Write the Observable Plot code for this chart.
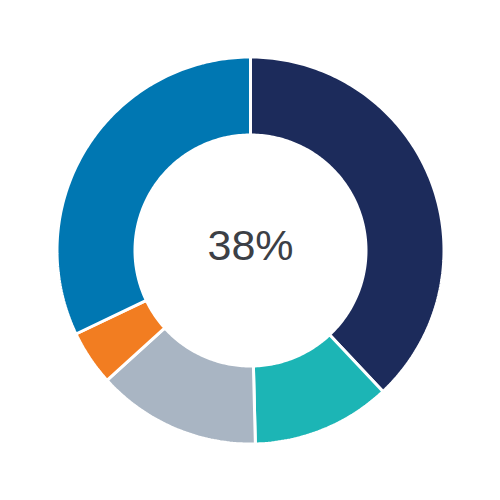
<!DOCTYPE html>
<html>
<head>
<meta charset="utf-8">
<script src="https://cdn.jsdelivr.net/npm/d3@7"></script>
<script src="https://cdn.jsdelivr.net/npm/@observablehq/plot@0.6"></script>
<style>
  html, body { margin: 0; padding: 0; background: #ffffff; }
  #chart { width: 500px; height: 500px; }
</style>
</head>
<body>
<div id="chart"></div>
<script>
// Data (clockwise from 12 o'clock)
const categories = ["Segment 1", "Segment 2", "Segment 3", "Segment 4", "Segment 5"];
const values = [38, 11.6, 13.7, 4.6, 32.1];
const colors = ["#1c2b5b", "#1cb5b5", "#a9b5c3", "#f27d21", "#0077b2"];
const centerLabel = "38%";

// Build slice outlines from the pie layout
const outerR = 193.5, innerR = 115.5;
const pie = d3.pie().sort(null).value(d => d.value)(categories.map((c, i) => ({name: c, value: values[i]})));
const pts = [];
for (const arc of pie) {
  const n = Math.max(8, Math.ceil((arc.endAngle - arc.startAngle) * 60));
  for (let k = 0; k <= n; k++) {
    const a = arc.startAngle + (arc.endAngle - arc.startAngle) * k / n;
    pts.push({name: arc.data.name, x: outerR * Math.sin(a), y: outerR * Math.cos(a)});
  }
  for (let k = n; k >= 0; k--) {
    const a = arc.startAngle + (arc.endAngle - arc.startAngle) * k / n;
    pts.push({name: arc.data.name, x: innerR * Math.sin(a), y: innerR * Math.cos(a)});
  }
}

const chart = Plot.plot({
  width: 500,
  height: 500,
  margin: 0,
  x: {domain: [-250, 250], axis: null},
  y: {domain: [-250, 250], axis: null},
  color: {domain: categories, range: colors},
  style: {fontFamily: "'Liberation Sans', Arial, sans-serif", background: "#ffffff"},
  marks: [
    Plot.line(pts, {x: "x", y: "y", z: "name", fill: "name", stroke: "#ffffff", strokeWidth: 3, curve: "linear-closed", strokeLinejoin: "miter"}),
    Plot.text([centerLabel], {x: () => 0, y: () => 4, text: d => d, fontSize: 43, fill: "#3c4046", textAnchor: "middle"})
  ]
});
document.getElementById("chart").appendChild(chart);
</script>
</body>
</html>
